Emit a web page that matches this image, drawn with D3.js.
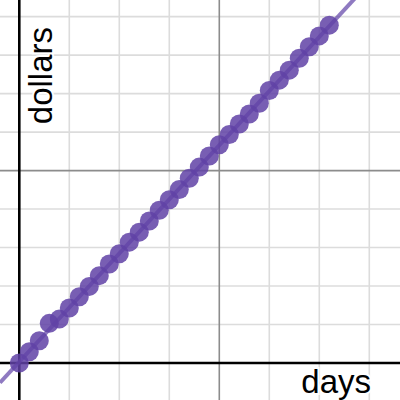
<!DOCTYPE html>
<html>
<head>
<meta charset="utf-8">
<script src="https://cdn.jsdelivr.net/npm/d3@7"></script>
<style>
html,body{margin:0;padding:0;background:#fff;}
svg{display:block;}
</style>
</head>
<body>
<svg id="chart" width="400" height="400"></svg>
<script>
const days = [0,1,2,3,4,5,6,7,8,9,10,11,12,13,14,15,16,17,18,19,20,21,22,23,24,25,26,27,28,29,30,31];
const dollars = [0,2.9,5.8,10.3,11.4,14.3,17.2,19.9,22.7,25.7,28.4,31.4,34.0,36.9,39.7,42.4,45.1,48.0,50.9,53.8,56.7,59.4,62.1,64.7,67.5,70.8,73.5,76.1,79.2,82.2,85.0,87.8];
const xTicksMinor = [5,10,15,25,30,35];
const xTicksMajor = [20];
const yTicksMinor = [-10,10,20,30,40,60,70,80,90];
const yTicksMajor = [50];
const xLabel = "days";
const yLabel = "dollars";

const W = 400, H = 400;
const svg = d3.select("#chart");
const x = d3.scaleLinear().domain([-1.93, 38.07]).range([0, W]);
const y = d3.scaleLinear().domain([-9.62, 94.33]).range([H, 0]);

// grid
const g = svg.append("g");
g.selectAll(".vx").data(xTicksMinor).join("line")
  .attr("x1", d => x(d)).attr("x2", d => x(d)).attr("y1", 0).attr("y2", H)
  .attr("stroke", "#dcdcdc").attr("stroke-width", 1.6);
g.selectAll(".hy").data(yTicksMinor).join("line")
  .attr("y1", d => y(d)).attr("y2", d => y(d)).attr("x1", 0).attr("x2", W)
  .attr("stroke", "#dcdcdc").attr("stroke-width", 1.6);
g.selectAll(".vX").data(xTicksMajor).join("line")
  .attr("x1", d => x(d)).attr("x2", d => x(d)).attr("y1", 0).attr("y2", H)
  .attr("stroke", "#8c8c8c").attr("stroke-width", 1.6);
g.selectAll(".hY").data(yTicksMajor).join("line")
  .attr("y1", d => y(d)).attr("y2", d => y(d)).attr("x1", 0).attr("x2", W)
  .attr("stroke", "#8c8c8c").attr("stroke-width", 1.6);

// labels with white halo
svg.append("text")
  .attr("x", 371).attr("y", 393)
  .attr("text-anchor", "end")
  .attr("font-family", "Liberation Sans, Arial, sans-serif")
  .attr("font-size", 33)
  .attr("fill", "#000")
  .attr("stroke", "#fff").attr("stroke-width", 4).attr("paint-order", "stroke")
  .text(xLabel);
svg.append("text")
  .attr("transform", "translate(52,27) rotate(-90)")
  .attr("text-anchor", "end")
  .attr("font-family", "Liberation Sans, Arial, sans-serif")
  .attr("font-size", 33)
  .attr("fill", "#000")
  .attr("stroke", "#fff").attr("stroke-width", 4).attr("paint-order", "stroke")
  .text(yLabel);

// axes
svg.append("line").attr("x1", x(0)).attr("x2", x(0)).attr("y1", 0).attr("y2", H)
  .attr("stroke", "#000").attr("stroke-width", 2.6);
svg.append("line").attr("y1", y(0)).attr("y2", y(0)).attr("x1", 0).attr("x2", W)
  .attr("stroke", "#000").attr("stroke-width", 2.6);

// regression line
const n = days.length;
const mx = d3.mean(days), my = d3.mean(dollars);
let sxy = 0, sxx = 0;
for (let i = 0; i < n; i++) { sxy += (days[i]-mx)*(dollars[i]-my); sxx += (days[i]-mx)**2; }
const slope = sxy / sxx, intercept = my - slope * mx;
const xd = x.domain();
svg.append("line")
  .attr("x1", x(xd[0])).attr("y1", y(intercept + slope * xd[0]))
  .attr("x2", x(xd[1])).attr("y2", y(intercept + slope * xd[1]))
  .attr("stroke", "#6042a6").attr("stroke-opacity", 0.7).attr("stroke-width", 4);

// points
svg.append("g").selectAll("circle").data(days).join("circle")
  .attr("cx", (d) => x(d)).attr("cy", (d, i) => y(dollars[i]))
  .attr("r", 9.5)
  .attr("fill", "#6042a6").attr("fill-opacity", 0.85);
</script>
</body>
</html>
